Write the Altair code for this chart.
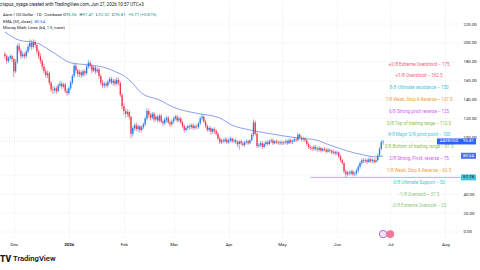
import altair as alt
import numpy as np
import pandas as pd

FONT = "Roboto"
INK = "#131722"
UP = "#2B7BE8"
DOWN = "#EF3B53"
EMA_COLOR = "#6F86EA"
GREEN = "#089981"

# ---- daily AAVE/USD candles, Nov 26 2025 .. Jun 27 2026 ----
first_day = "2025-11-26"

opens = [188, 186, 181, 184, 186, 183, 170,
         180, 197, 192, 186, 188, 186, 191,
         196, 200, 196, 201, 198, 191, 186,
         181, 175, 170, 166, 168, 158, 151,
         150, 152, 149, 155, 157, 154, 156,
         149, 147, 152, 158, 165, 176, 171,
         167, 169, 166, 170, 168, 175, 179,
         176, 171, 174, 170, 172, 165, 158,
         155, 157, 155, 159, 162, 158, 160,
         157, 161, 158, 145, 133, 128, 125,
         127, 122, 104, 110, 113, 109, 112,
         108, 111, 114, 120, 128, 124, 121,
         125, 119, 122, 118, 123, 117, 115,
         119, 121, 116, 114, 117, 120, 122,
         118, 120, 116, 112, 108, 110, 112,
         111, 113, 110, 112, 111, 115, 120,
         122, 117, 112, 108, 110, 106, 109,
         107, 104, 99, 95, 97, 96, 98,
         95, 97, 99, 96, 97, 95, 93,
         96, 94, 92, 95, 96, 94, 97,
         103, 116, 104, 91, 92, 94, 90,
         93, 95, 93, 96, 97, 94, 96,
         95, 94, 95, 94, 95, 96, 94,
         97, 95, 96, 98, 97, 103, 100,
         98, 99, 97, 93, 90, 89, 88,
         90, 88, 87, 89, 86, 88, 87,
         85, 87, 86, 84, 85, 83, 84,
         80, 76, 73, 64, 61, 63, 62,
         64, 61, 62, 65, 69, 73, 76,
         75, 76, 74, 77, 75, 76, 74,
         76, 81, 88, 95.06]

highs = [191, 188, 186, 188, 188, 184, 183,
         199, 200, 194, 191, 190, 193, 199,
         204, 203, 204, 203, 199, 193, 189,
         183, 178, 173, 171, 170, 160, 155,
         154, 154, 157, 160, 159, 158, 158,
         152, 154, 160, 167, 179, 178, 173,
         172, 171, 172, 172, 177, 182, 181,
         178, 176, 176, 174, 174, 167, 161,
         159, 159, 161, 164, 164, 162, 162,
         164, 163, 159, 147, 136, 131, 130,
         129, 123, 112, 115, 116, 114, 113,
         113, 116, 122, 131, 130, 126, 127,
         127, 124, 124, 125, 125, 119, 121,
         123, 123, 118, 119, 122, 124, 124,
         122, 122, 118, 114, 112, 114, 114,
         115, 115, 114, 114, 117, 122, 125,
         124, 119, 114, 112, 112, 110, 111,
         109, 106, 101, 99, 99, 100, 100,
         99, 101, 100, 99, 99, 97, 97,
         98, 96, 96, 98, 98, 98, 105,
         119, 118, 106, 94, 96, 96, 95,
         97, 97, 98, 99, 99, 97, 98,
         97, 97, 97, 96, 98, 98, 99,
         99, 98, 100, 100, 105, 104, 102,
         101, 100, 98, 95, 92, 91, 92,
         92, 90, 91, 90, 89, 90, 89,
         89, 88, 87, 87, 86, 86, 85,
         82, 78, 74, 66, 65, 65, 66,
         66, 64, 67, 71, 75, 78, 78,
         78, 78, 79, 79, 78, 78, 78,
         83, 90, 97, 97.47]

lows = [183, 178, 179, 182, 180, 164, 168,
        178, 189, 183, 184, 183, 184, 189,
        193, 193, 194, 195, 188, 183, 178,
        172, 167, 163, 163, 155, 148, 146,
        147, 146, 148, 153, 151, 152, 147,
        144, 145, 150, 156, 163, 168, 164,
        164, 163, 164, 165, 166, 173, 173,
        168, 169, 167, 168, 162, 155, 152,
        152, 153, 153, 157, 156, 155, 154,
        155, 155, 143, 130, 124, 121, 122,
        119, 99, 101, 107, 107, 106, 105,
        106, 109, 112, 118, 121, 118, 119,
        116, 117, 116, 116, 115, 112, 113,
        116, 114, 111, 112, 115, 118, 116,
        116, 114, 110, 105, 106, 108, 108,
        109, 108, 108, 109, 109, 113, 118,
        115, 110, 106, 106, 103, 104, 104,
        102, 97, 93, 93, 94, 94, 93,
        93, 95, 94, 94, 93, 90, 87,
        92, 90, 90, 93, 92, 93, 96,
        101, 102, 89, 89, 90, 88, 89,
        91, 91, 92, 94, 92, 93, 93,
        92, 92, 92, 92, 93, 92, 93,
        93, 93, 95, 95, 96, 98, 96,
        96, 95, 91, 88, 87, 86, 86,
        86, 85, 85, 84, 85, 85, 83,
        84, 84, 82, 82, 81, 81, 78,
        74, 71, 62, 57.78, 59, 60, 60,
        59, 59, 60, 63, 67, 71, 73,
        73, 72, 73, 73, 73, 72, 73,
        75, 80, 87, 92.32]

closes = [186, 181, 184, 186, 183, 170, 180,
          197, 192, 186, 188, 186, 191, 196,
          200, 196, 201, 198, 191, 186, 181,
          175, 170, 166, 168, 158, 151, 150,
          152, 149, 155, 157, 154, 156, 149,
          147, 152, 158, 165, 176, 171, 167,
          169, 166, 170, 168, 175, 179, 176,
          171, 174, 170, 172, 165, 158, 155,
          157, 155, 159, 162, 158, 160, 157,
          161, 158, 145, 133, 128, 125, 127,
          122, 104, 110, 113, 109, 112, 108,
          111, 114, 120, 128, 124, 121, 125,
          119, 122, 118, 123, 117, 115, 119,
          121, 116, 114, 117, 120, 122, 118,
          120, 116, 112, 108, 110, 112, 111,
          113, 110, 112, 111, 115, 120, 122,
          117, 112, 108, 110, 106, 109, 107,
          104, 99, 95, 97, 96, 98, 95,
          97, 99, 96, 97, 95, 93, 96,
          94, 92, 95, 96, 94, 97, 103,
          116, 104, 91, 92, 94, 90, 93,
          95, 93, 96, 97, 94, 96, 95,
          94, 95, 94, 95, 96, 94, 97,
          95, 96, 98, 97, 103, 100, 98,
          99, 97, 93, 90, 89, 88, 90,
          88, 87, 89, 86, 88, 87, 85,
          87, 86, 84, 85, 83, 84, 80,
          76, 73, 64, 61, 63, 62, 64,
          61, 62, 65, 69, 73, 76, 75,
          76, 74, 77, 75, 76, 74, 76,
          81, 88, 95.04, 95.81]

# ---- EMA(50, close) ----
ema_dates = ["2025-11-26", "2025-12-04", "2025-12-14", "2025-12-24", "2026-01-02",
             "2026-01-11", "2026-01-20", "2026-01-28", "2026-02-02", "2026-02-04",
             "2026-02-11", "2026-02-21", "2026-03-01", "2026-03-09", "2026-03-16",
             "2026-03-27", "2026-04-03", "2026-04-13", "2026-04-22", "2026-05-10",
             "2026-05-20", "2026-05-28", "2026-06-07", "2026-06-16", "2026-06-23",
             "2026-06-25", "2026-06-27"]
ema_values = [211.6, 203, 200, 189, 179, 177, 174.6, 169, 164, 161,
              147, 139.7, 132, 127.5, 125, 120.6, 113, 108, 104.8, 99.5,
              97.4, 92, 85.7, 81.5, 79.5, 79.9, 80.64]

# ---- Murray Math Lines (64, 1.5) ----
murray_levels = [175, 162.5, 150, 137.5, 125, 112.5, 100, 87.5, 75, 62.5, 50, 37.5, 25]
murray_names = ["+2/8 Extreme Overshoot", "+1/8 Overshoot", "8/8 Ultimate resistance",
                "7/8 Weak, Stop & Reverse", "6/8 Strong pivot reverse",
                "5/8 Top of trading range", "4/8 Major S/R pivot point",
                "3/8 Bottom of trading range", "2/8 Strong, Pivot, reverse",
                "1/8 Weak, Stop & Reverse", "0/8 Ultimate Support",
                "-1/8 Oversold", "-2/8 Extreme Oversold"]
murray_colors = ["#F05A78", "#F05A78", "#3CC6DC", "#F5A23A", "#D25AEF", "#8DBE4E",
                 "#3CC6DC", "#8DBE4E", "#D25AEF", "#F5A23A", "#3CC6DC", "#8DC87A",
                 "#8DC87A"]

ray_start = "2026-05-17"
price_ticks = [0, 20, 40, 100, 120, 140, 160, 180, 200, 220]
grid_prices = [0, 20, 40, 60, 80, 100, 120, 140, 160, 180, 200, 220]
month_starts = ["2025-12-01", "2026-01-01", "2026-02-01", "2026-03-01", "2026-04-01",
                "2026-05-01", "2026-06-01", "2026-07-01", "2026-08-01"]
event_dates = ["2026-06-27", "2026-07-01"]


def ms(s):
    return int(pd.Timestamp(s).value // 10**6)


DAY = 86400000
dates = pd.date_range(first_day, periods=len(closes), freq="D")
candles = pd.DataFrame({
    "t": dates.asi8 // 10**6,
    "open": opens, "high": highs, "low": lows, "close": closes,
})
candles["dir"] = np.where(candles["close"] >= candles["open"], "up", "down")

ema_df = pd.DataFrame({"t": [ms(d) for d in ema_dates], "ema": ema_values})
murray_df = pd.DataFrame({
    "level": murray_levels,
    "label": [f"{n} -- {v:g}" for n, v in zip(murray_names, murray_levels)],
    "col": murray_colors,
})

last_close = closes[-1]
prev_close = closes[-2]
ema_last = ema_values[-1]
low_mark = min(lows)

xscale = alt.Scale(type="utc", domain=[ms("2025-12-01") - 4.96 * DAY,
                                       ms("2025-12-01") + 248.5 * DAY])
yscale = alt.Scale(domain=[-6.35, 245.5], nice=False, zero=False)

x_axis = alt.Axis(
    values=[ms(m) for m in month_starts],
    labelExpr="utcFormat(datum.value, '%b') == 'Jan' ? utcFormat(datum.value, '%Y') : utcFormat(datum.value, '%b')",
    labelFontWeight={"condition": {"test": "utcmonth(datum.value) == 0", "value": "bold"},
                     "value": "normal"},
    labelFont=FONT, labelFontSize=4.4, labelColor=INK, labelPadding=4,
    ticks=False, domain=False, grid=True, gridColor="#EEF1F6", gridWidth=0.6,
    labelOverlap=False, title=None,
)
y_axis = alt.Axis(
    orient="right", values=price_ticks, format=".2f",
    labelFont=FONT, labelFontSize=4.3, labelColor=INK, labelPadding=3,
    labelAlign="left", labelBaseline="middle",
    ticks=False, domain=False, grid=False, labelOverlap=False, title=None,
)

# every layer carries the same axes so the merged axes keep their settings
X = lambda f: alt.X(f, type="temporal", scale=xscale, axis=x_axis)
Y = lambda f: alt.Y(f, type="quantitative", scale=yscale, axis=y_axis)
dir_color = alt.Color("dir:N", scale=alt.Scale(domain=["up", "down"], range=[UP, DOWN]),
                      legend=None)

one = pd.DataFrame({"k": [0]})

hgrid = alt.Chart(pd.DataFrame({"p": grid_prices})).mark_rule(
    color="#F1F3F7", strokeWidth=0.6).encode(y=Y("p"))

murray = alt.Chart(murray_df).mark_text(
    font=FONT, fontSize=4.5, align="center", baseline="bottom").encode(
    x=alt.value(419), y=Y("level"), text="label:N", color=alt.Color("col:N", scale=None))

price_line = alt.Chart(pd.DataFrame({"p": [last_close]})).mark_rule(
    color="#C8D0DC", strokeWidth=0.5, strokeDash=[1, 1.5]).encode(y=Y("p"))

ray = alt.Chart(pd.DataFrame({"t": [ms(ray_start)], "p": [low_mark]})).mark_rule(
    color="#4DCBE0", strokeWidth=0.8).encode(x=X("t"), x2=alt.value(461), y=Y("p"))

ema_line = alt.Chart(ema_df).mark_line(
    color=EMA_COLOR, strokeWidth=0.8, interpolate="monotone").encode(x=X("t"), y=Y("ema"))

wicks = alt.Chart(candles).mark_rule(strokeWidth=0.55).encode(
    x=X("t"), y=Y("low"), y2="high", color=dir_color)

bodies = alt.Chart(candles).mark_bar(size=1.35).encode(
    x=X("t"), y=Y("open"), y2="close", color=dir_color)

events = alt.Chart(pd.DataFrame({"t": [ms(event_dates[0])], "p": [-2.2]})).mark_point(
    shape="circle", filled=True, fill="#F3E5F5", stroke="#9C4DCC", strokeWidth=0.8,
    size=55, opacity=1).encode(x=X("t"), y=Y("p"))
events2 = alt.Chart(pd.DataFrame({"t": [ms(event_dates[1])], "p": [-2.2]})).mark_point(
    shape="circle", filled=True, color="#F06A8C", size=62, opacity=0.9).encode(
    x=X("t"), y=Y("p"))

# price-scale badges
badges = pd.DataFrame({
    "p": [last_close, ema_last, low_mark],
    "txt": [f"{last_close:.2f}", f"{ema_last:.2f}", f"{low_mark:.2f}"],
    "bg": ["#2962FF", "#4A6FF0", "#45C3DA"],
    "fg": ["#FFFFFF", "#FFFFFF", INK],
})
badge_box = alt.Chart(badges).mark_tick(thickness=6, size=15, opacity=1).encode(
    x=alt.value(468.5), y=Y("p"), color=alt.Color("bg:N", scale=None))
badge_txt = alt.Chart(badges).mark_text(font=FONT, fontSize=4.3, align="center",
                                        baseline="middle").encode(
    x=alt.value(468.5), y=Y("p"), text="txt:N", color=alt.Color("fg:N", scale=None))
sym_box = alt.Chart(pd.DataFrame({"p": [last_close]})).mark_tick(
    thickness=6, size=24, color="#2962FF", opacity=1).encode(x=alt.value(449), y=Y("p"))
sym_txt = alt.Chart(pd.DataFrame({"p": [last_close]})).mark_text(
    text="AAVEUSD", font=FONT, fontSize=4.3, color="#FFFFFF", align="center",
    baseline="middle").encode(x=alt.value(449), y=Y("p"))


def txt(s, x, y, color=INK, size=4.2, weight="normal"):
    return alt.Chart(one).mark_text(
        text=s, font=FONT, fontSize=size, fontWeight=weight, color=color,
        align="left", baseline="middle").encode(x=alt.value(x), y=alt.value(y))


chg = last_close - prev_close
header = [
    txt("crispus_nyaga created with TradingView.com, Jun 27, 2026 10:57 UTC+3", -1, 5, size=4.5),
    txt("Aave / US Dollar · 1D · Coinbase", 3, 15),
    txt("O", 63, 15), txt(f"{opens[-1]:.2f}", 66, 15, GREEN),
    txt("H", 79.5, 15), txt(f"{highs[-1]:.2f}", 82.6, 15, GREEN),
    txt("L", 96, 15), txt(f"{lows[-1]:.2f}", 98.6, 15, GREEN),
    txt("C", 112, 15), txt(f"{last_close:.2f}", 115, 15, GREEN),
    txt(f"{chg:+.2f} ({chg / prev_close * 100:+.2f}%)", 128.5, 15, GREEN),
    txt("EMA (50, close)", 3, 21.5), txt(f"{ema_last:.2f}", 34.5, 21.5, "#2962FF"),
    txt("Murray Math Lines (64, 1.5, none)", 3, 27.5),
    txt("TV", 0, 259, size=8.5, weight=900),
    txt("TradingView", 13, 259, size=7.6, weight=600),
]

chart = alt.layer(
    hgrid, murray, price_line, ray, ema_line, wicks, bodies,
    events, events2, sym_box, sym_txt, badge_box, badge_txt, *header,
).properties(
    width=460, height=238,
    autosize=alt.AutoSizeParams(type="none"),
    padding={"left": 0, "top": 0, "right": 20, "bottom": 32},
    background="#FFFFFF",
).configure_view(stroke=None)

chart.save("out.html", embed_options={"renderer": "svg", "actions": False})
